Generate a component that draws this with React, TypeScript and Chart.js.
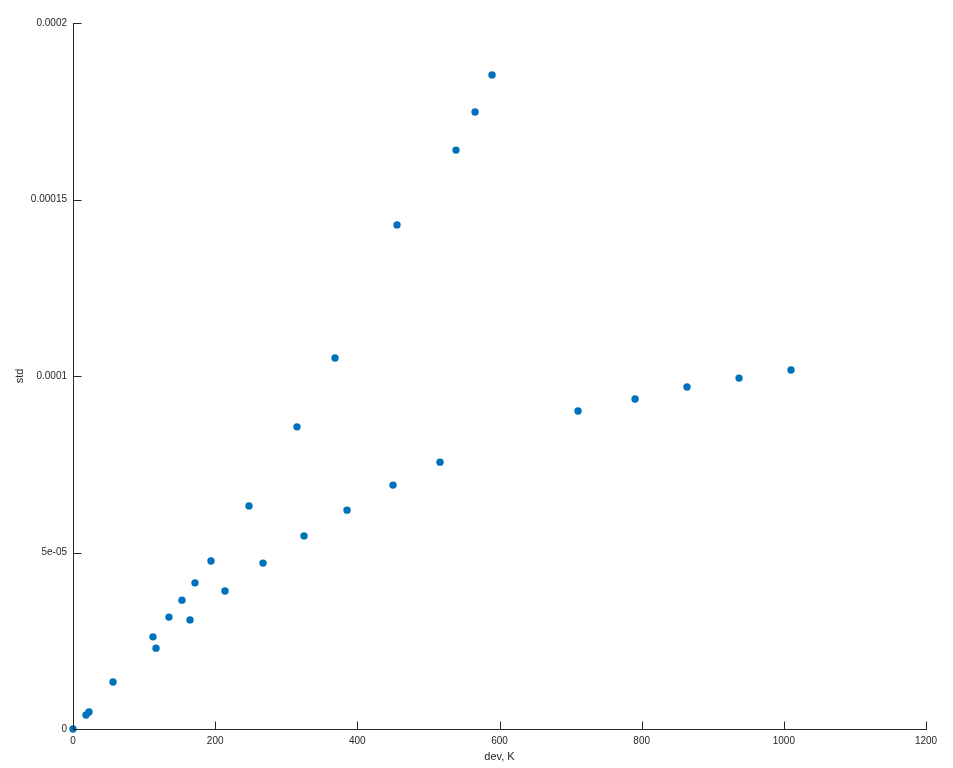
import React, { useEffect, useRef } from "react";
import { Chart, registerables } from "chart.js";

Chart.register(...registerables);

const devK = [
  0, 18.3, 22.5, 56.3, 112.5, 116.8, 135, 153.3, 164.6, 171.6, 194.1, 213.8, 247.6, 267.3,
  315.1, 325, 368.6, 385.5, 450.2, 455.8, 516.3, 538.8, 565.6, 589.5, 710.5, 790.7, 863.8,
  937, 1010.1,
];
const stdVals = [
  0, 3.97e-6, 4.8e-6, 13.3e-6, 26.1e-6, 22.9e-6, 31.7e-6, 36.5e-6, 30.9e-6, 41.4e-6, 47.6e-6,
  39.1e-6, 63.2e-6, 47.0e-6, 85.6e-6, 54.7e-6, 105.1e-6, 62.0e-6, 69.1e-6, 142.8e-6, 75.6e-6,
  164.0e-6, 174.8e-6, 185.3e-6, 90.1e-6, 93.5e-6, 96.9e-6, 99.4e-6, 101.7e-6,
];
const xTickLabels = ["0", "200", "400", "600", "800", "1000", "1200"];
const yTickLabels = ["0", "5e-05", "0.0001", "0.00015", "0.0002"];
const xTitle = "dev, K";
const yTitle = "std";

const AXIS_COLOR = "#262626";
const FONT = "'Liberation Sans', Arial, sans-serif";

const inwardTicks = {
  id: "inwardTicks",
  afterDraw(chart: any) {
    const { ctx, chartArea, scales } = chart;
    const xs = scales.x;
    const ys = scales.y;
    const L = 8;
    ctx.save();
    ctx.strokeStyle = AXIS_COLOR;
    ctx.lineWidth = 1;
    ctx.beginPath();
    const left = Math.round(chartArea.left) + 0.5;
    const bottom = Math.round(chartArea.bottom) + 0.5;
    ctx.moveTo(left, Math.round(chartArea.top));
    ctx.lineTo(left, bottom);
    ctx.lineTo(Math.round(chartArea.right) + 1, bottom);
    xs.ticks.forEach((t: any) => {
      const px = Math.round(xs.getPixelForValue(t.value)) + 0.5;
      ctx.moveTo(px, bottom);
      ctx.lineTo(px, bottom - L);
    });
    ys.ticks.forEach((t: any) => {
      const py = Math.round(ys.getPixelForValue(t.value)) + 0.5;
      ctx.moveTo(left, py);
      ctx.lineTo(left + L, py);
    });
    ctx.stroke();
    ctx.restore();
  },
};

export default function App() {
  const ref = useRef<HTMLCanvasElement | null>(null);
  useEffect(() => {
    if (!ref.current) return;
    const chart = new Chart(ref.current, {
      type: "scatter",
      data: {
        datasets: [
          {
            data: devK.map((x, i) => ({ x, y: stdVals[i] })),
            backgroundColor: "#0072BD",
            borderWidth: 0,
            pointRadius: 3.7,
            clip: false as any,
          },
        ],
      },
      options: {
        animation: false,
        responsive: false,
        layout: { padding: { left: 0, top: 23, right: 27, bottom: 0 } },
        plugins: { legend: { display: false }, tooltip: { enabled: false } },
        scales: {
          x: {
            type: "linear",
            min: 0,
            max: 1200,
            grid: { display: false, drawTicks: false },
            border: { display: false },
            ticks: {
              stepSize: 200,
              padding: 6,
              color: AXIS_COLOR,
              font: { family: FONT, size: 10 },
              maxRotation: 0,
              callback: (_v: any, i: number) => xTickLabels[i],
            },
            title: {
              display: true,
              text: xTitle,
              color: AXIS_COLOR,
              font: { family: FONT, size: 11 },
              padding: { top: 0, bottom: 4 },
            },
            afterFit: (s: any) => {
              s.height = 39;
            },
          },
          y: {
            type: "linear",
            min: 0,
            max: 0.0002,
            grid: { display: false, drawTicks: false },
            border: { display: false },
            ticks: {
              stepSize: 0.00005,
              padding: 6,
              color: AXIS_COLOR,
              font: { family: FONT, size: 10 },
              callback: (_v: any, i: number) => yTickLabels[i],
            },
            title: {
              display: true,
              text: yTitle,
              color: AXIS_COLOR,
              font: { family: FONT, size: 11 },
              padding: { top: 13, bottom: 0 },
            },
            afterFit: (s: any) => {
              s.width = 73;
            },
          },
        },
      },
      plugins: [inwardTicks],
    });
    return () => chart.destroy();
  }, []);
  return (
    <div style={{ position: "fixed", left: 0, top: 0, width: 953, height: 768, background: "#fff" }}>
      <canvas ref={ref} width={953} height={768} style={{ width: 953, height: 768 }} />
    </div>
  );
}
